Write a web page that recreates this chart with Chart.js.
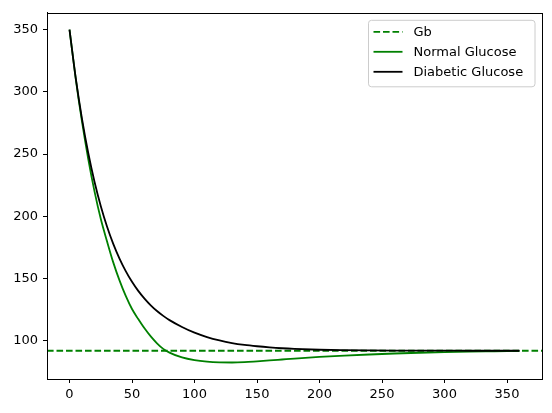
<!DOCTYPE html>
<html>
<head>
<meta charset="utf-8">
<script src="https://cdn.jsdelivr.net/npm/chart.js@4.4.1/dist/chart.umd.min.js"></script>
<style>
  html, body { margin: 0; padding: 0; background: #fff; }
  #wrap { width: 552px; height: 413px; }
</style>
</head>
<body>
<div id="wrap"><canvas id="glucoseChart"></canvas></div>
<script>
// -----------------------------
// Data
// -----------------------------
const times = [0, 5, 10, 15, 20, 25, 30, 35, 40, 45, 50, 55, 60, 65, 70, 75, 80,
    90, 100, 110, 120, 130, 140, 150, 160, 170, 180, 200, 220, 240, 260, 280, 300, 320, 340, 360];
const normalGlucose = [350, 310.5, 276, 246, 220, 198, 180, 163, 148.5, 136, 125.5, 117.5, 110, 103.5, 98, 93.5, 90.5,
    86.6, 84.4, 83.2, 82.65, 82.55, 82.85, 83.5, 84.2, 84.95, 85.7, 87.0, 88.1, 89.0, 89.8, 90.4, 90.9, 91.3, 91.6, 91.9];
const diabeticGlucose = [350, 311, 278.3, 250.9, 227.8, 208.3, 191.8, 177.9, 166.1, 156, 147.4, 140.1, 133.9, 128.5, 123.9, 120, 116.6,
    111.1, 106.5, 103, 100.3, 98.2, 96.7, 95.6, 94.7, 94.0, 93.5, 92.8, 92.45, 92.25, 92.12, 92.06, 92.03, 92.01, 92.0, 92.0];
const gb = 92;

const xRange = [-18, 378];
const yRange = [69.3, 363.5];
const xTicks = [0, 50, 100, 150, 200, 250, 300, 350];
const yTicks = [100, 150, 200, 250, 300, 350];

function toPoints(xs, ys) {
    return xs.map((x, i) => ({ x: x, y: ys[i] }));
}

// -----------------------------
// Box round the axes + legend inside (matplotlib look)
// -----------------------------
const frameAndLegend = {
    id: 'frameAndLegend',
    afterDraw(chart) {
        const ctx = chart.ctx;
        const a = chart.chartArea;
        ctx.save();
        ctx.strokeStyle = '#000';
        ctx.lineWidth = 1;
        ctx.strokeRect(Math.round(a.left) + 0.5, Math.round(a.top) + 0.5,
            Math.round(a.right - a.left), Math.round(a.bottom - a.top));

        // legend
        const bx = a.right - 173.5, by = a.top + 7.5, bw = 166.5, bh = 66.5;
        ctx.beginPath();
        ctx.roundRect(bx, by, bw, bh, 3);
        ctx.fillStyle = 'rgba(255,255,255,0.8)';
        ctx.fill();
        ctx.strokeStyle = '#cccccc';
        ctx.stroke();

        const rows = [0, 1, 2].map(i => chart.data.datasets[i]);
        ctx.font = '13px "DejaVu Sans"';
        ctx.textBaseline = 'middle';
        rows.forEach((ds, i) => {
            const y = by + 11.5 + i * 20;
            ctx.beginPath();
            ctx.setLineDash(ds.borderDash || []);
            ctx.strokeStyle = ds.borderColor;
            ctx.lineWidth = ds.borderWidth;
            ctx.moveTo(bx + 5, y);
            ctx.lineTo(bx + 34, y);
            ctx.stroke();
            ctx.setLineDash([]);
            ctx.fillStyle = '#000';
            ctx.fillText(ds.label, bx + 45, y + 1);
        });
        ctx.restore();
    }
};

const axisFont = { family: 'DejaVu Sans', size: 13 };

new Chart(document.getElementById('glucoseChart').getContext('2d'), {
    type: 'line',
    data: {
        datasets: [{
            label: 'Gb',
            data: [{ x: xRange[0], y: gb }, { x: xRange[1], y: gb }],
            borderColor: '#008000',
            borderWidth: 1.8,
            borderDash: [6.6, 2.9],
            pointRadius: 0,
            order: 3
        }, {
            label: 'Normal Glucose',
            data: toPoints(times, normalGlucose),
            borderColor: '#008000',
            borderWidth: 1.8,
            pointRadius: 0,
            cubicInterpolationMode: 'monotone',
            order: 2
        }, {
            label: 'Diabetic Glucose',
            data: toPoints(times, diabeticGlucose),
            borderColor: '#000000',
            borderWidth: 1.8,
            pointRadius: 0,
            cubicInterpolationMode: 'monotone',
            order: 1
        }]
    },
    options: {
        responsive: true,
        maintainAspectRatio: false,
        animation: false,
        layout: { padding: { left: 0, right: 10, top: 10, bottom: 0 } },
        plugins: {
            legend: { display: false },
            tooltip: { enabled: false }
        },
        scales: {
            x: {
                type: 'linear',
                min: xRange[0],
                max: xRange[1],
                afterBuildTicks: s => { s.ticks = xTicks.map(v => ({ value: v })); },
                afterFit: s => { s.height = 34; },
                grid: { drawOnChartArea: false, drawTicks: true, tickLength: 4, color: '#000' },
                border: { display: true, color: '#000', width: 1 },
                ticks: { color: '#000', font: axisFont, padding: 4, maxRotation: 0 }
            },
            y: {
                type: 'linear',
                min: yRange[0],
                max: yRange[1],
                afterBuildTicks: s => { s.ticks = yTicks.map(v => ({ value: v })); },
                afterFit: s => { s.width = 47; },
                grid: { drawOnChartArea: false, drawTicks: true, tickLength: 4, color: '#000' },
                border: { display: true, color: '#000', width: 1 },
                ticks: { color: '#000', font: axisFont, padding: 5 }
            }
        }
    },
    plugins: [frameAndLegend]
});
</script>
</body>
</html>
